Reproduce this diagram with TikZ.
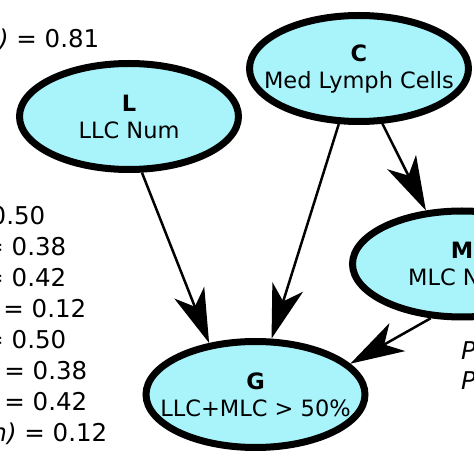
\documentclass[tikz,border=0pt]{standalone}
\usepackage{fontspec}
\setmainfont{DejaVu Sans}
\usetikzlibrary{shapes.geometric,arrows.meta}
\definecolor{nodefill}{HTML}{A8F4FA}
\definecolor{edgecolor}{HTML}{000000}
\newcommand{\figsize}{474pt}
\newcommand{\probfont}{\fontsize{24.5}{29}\selectfont}

\begin{document}
\begin{tikzpicture}[x=1pt, y=1pt,
  varnode/.style={ellipse, draw=edgecolor, line width=7pt, fill=nodefill,
    minimum width=219pt, minimum height=106pt, inner ysep=0pt, inner xsep=-40pt,
    align=center, font=\fontsize{22.5}{27}\selectfont},
  dep/.style={edgecolor, line width=2.5pt, -{Stealth[length=54pt, width=32pt, inset=15pt]}},
  prob/.style={anchor=base east, inner sep=0pt, font=\probfont}]
  \useasboundingbox (0,0) rectangle (\figsize, \figsize);
  \clip (0,0) rectangle (\figsize, \figsize);
  \fill[white] (0,0) rectangle (\figsize, \figsize);

  % === NODES ===
  \node[varnode] (L) at (129, 357.5) {\textbf{L}\\LLC Num};
  \node[varnode] (C) at (359, 405.5) {\textbf{C}\\Med Lymph Cells};
  \node[varnode] (M) at (462, 210) {\textbf{M}\\MLC Num};
  \node[varnode] (G) at (255.5, 79.5) {\textbf{G}\\LLC+MLC > 50\%};

  % === EDGES ===
  \draw[dep] (L.-77) -- (G.132);
  \draw[dep] (C.-110) -- (G.74);
  \draw[dep] (C.-67) -- (M.124);
  \draw[dep] (M.-120) -- (G.18);

  % === PROBABILITIES ===
  \node[prob] (p0) at (99.5, 426) {\textit{)} = 0.81};
  \foreach \val/\xend [count=\i] in {0.50/45.5, 0.38/66.5, 0.42/66.5, 0.12/86.5,
      0.50/66.5, 0.38/87.5, 0.42/87.5} {
    \node[prob] (p\i) at (\xend, 249-30.96*\i+30.96) {= \val};
  }
  \node[prob] (p8) at (107.5, 32.3) {\textit{m)} = 0.12};

  \node[prob, anchor=base west] (q1) at (461, 114) {\textit{P}};
  \node[prob, anchor=base west] (q2) at (461, 84) {\textit{P}};
\end{tikzpicture}
\end{document}
